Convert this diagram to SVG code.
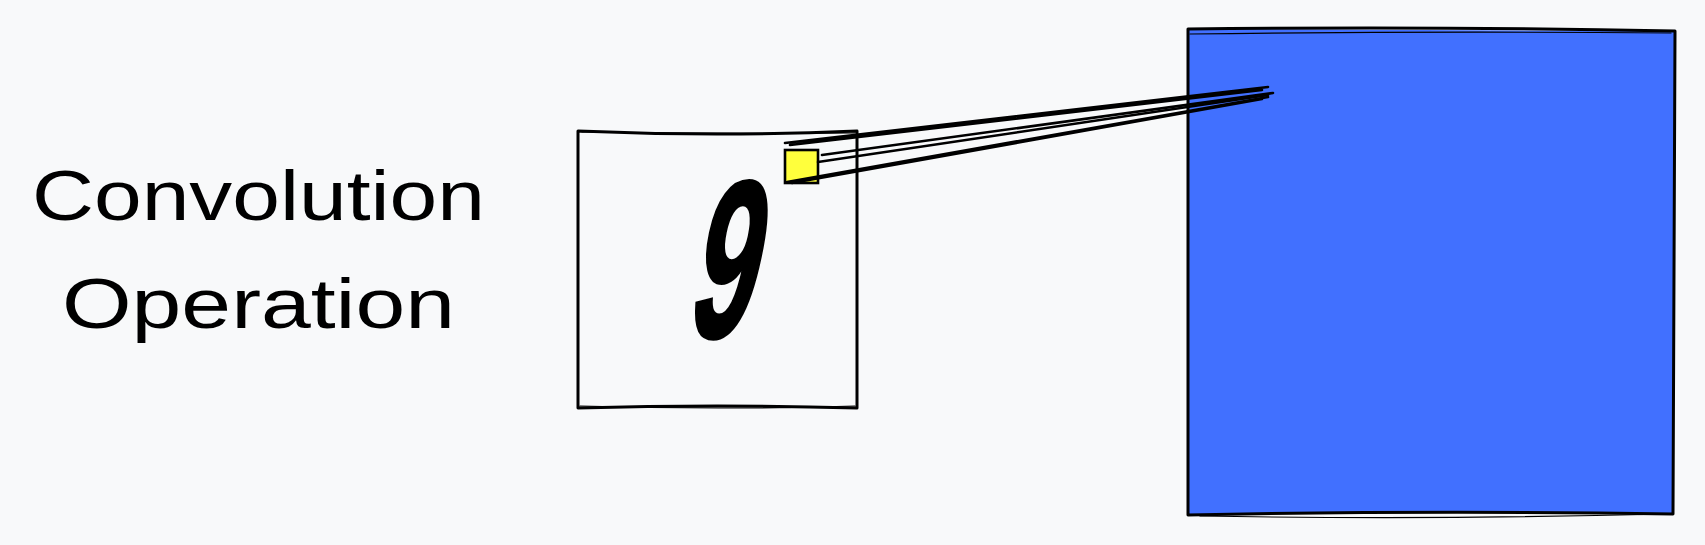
<svg xmlns="http://www.w3.org/2000/svg" width="1705" height="545" viewBox="0 0 1705 545">
<style>
.sk{fill:none;stroke:#000;stroke-width:3;stroke-linecap:round;stroke-linejoin:round}
.thin{fill:none;stroke:#000;stroke-width:1.2;stroke-linecap:round}
.lbl{font-family:"Liberation Sans",Arial,sans-serif;font-size:70px;fill:#000}
.con{fill:none;stroke:#000;stroke-width:2.6;stroke-linecap:round}
</style>
<rect x="0" y="0" width="1705" height="545" fill="#f8f9fa"/>
<g id="label">
<text class="lbl" x="32" y="220" textLength="453" lengthAdjust="spacingAndGlyphs">Convolution</text>
<text class="lbl" x="62" y="328" textLength="393" lengthAdjust="spacingAndGlyphs">Operation</text>
</g>
<g id="input-image">
<path class="sk" d="M578,131 Q717,137 857,131 L857,408 Q717,404 578,408 Z"/>
<path class="thin" d="M582,132 Q717,134 855,133 M580,406 Q720,410 855,406"/>
<text x="0" y="0" transform="translate(716,337) skewX(-12) scale(0.52,1)" text-anchor="middle" font-family="'Liberation Sans',Arial,sans-serif" font-weight="bold" font-size="224" fill="#000" stroke="#000" stroke-width="3">9</text>
</g>
<g id="output-map">
<path d="M1188,29 L1675,31 L1673,514 Q1430,510 1188,515 Z" fill="#4170ff"/>
<path class="sk" d="M1188,29 Q1430,26 1675,31 L1673,514 Q1430,510 1188,515 Z"/>
<path class="thin" d="M1190,34 Q1430,31 1671,33 M1200,516 Q1430,520 1668,514"/>
</g>
<g id="kernel">
<rect x="785" y="150" width="33" height="33" fill="#ffff3c" stroke="#000" stroke-width="2.6"/>
</g>
<g id="connectors">
<path class="con" d="M785,143 L1268,87 M790,145 L1262,90"/>
<path class="con" d="M822,155 L1273,93"/>
<path class="con" d="M818,162 L1268,95"/>
<path class="con" d="M787,182 L1268,97 M792,183 L1262,99"/>
</g>
</svg>
